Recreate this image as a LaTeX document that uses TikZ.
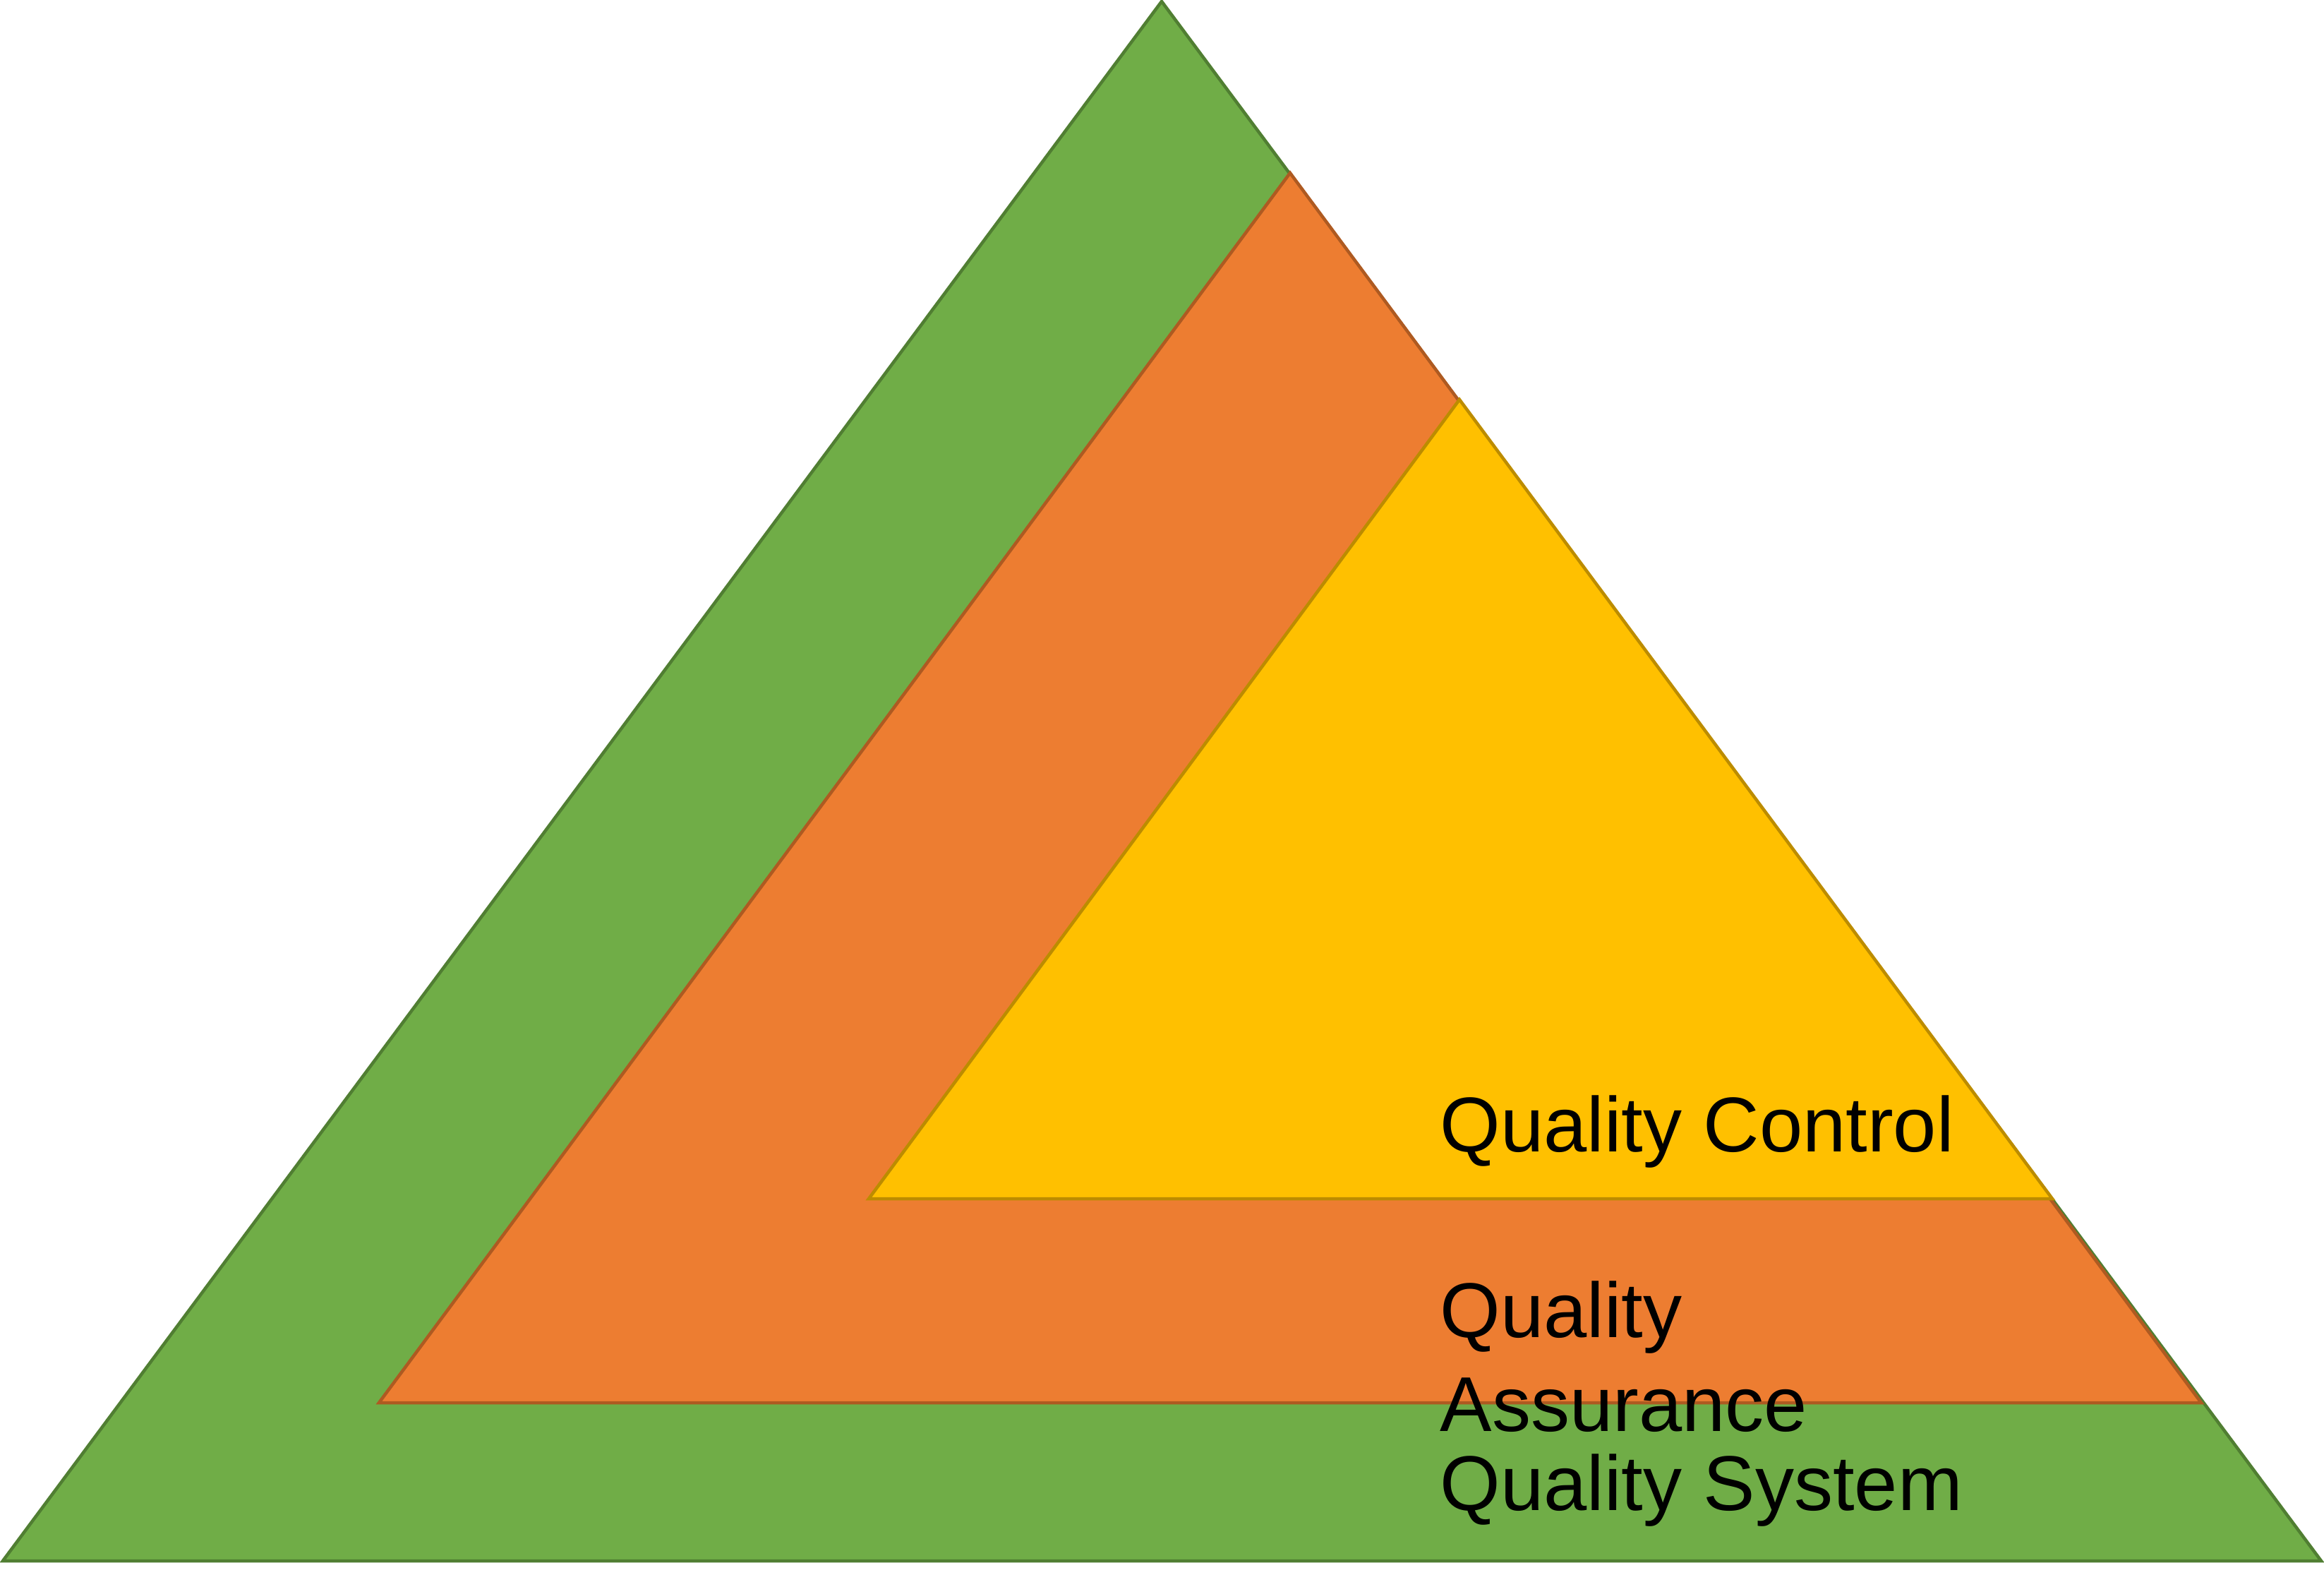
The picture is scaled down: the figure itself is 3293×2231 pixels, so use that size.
\documentclass[tikz,border=0pt]{standalone}
\usepackage{fontspec}
\setmainfont{Liberation Sans}
\definecolor{qsfill}{HTML}{70AD47}
\definecolor{qsline}{HTML}{507E32}
\definecolor{qafill}{HTML}{ED7D31}
\definecolor{qaline}{HTML}{AE5A21}
\definecolor{qcfill}{HTML}{FFC000}
\definecolor{qcline}{HTML}{BC8C00}
\tikzset{
  layer/.style={line width=0.045cm, line join=miter},
  label/.style={inner sep=0pt, anchor=base west, align=left,
    font=\fontsize{31.3pt}{37.6pt}\selectfont, text=black}
}
\begin{document}
\begin{tikzpicture}[x=0.01cm, y=-0.01cm]
\useasboundingbox (0,0) rectangle (3293,2231);
% Quality System (outer)
\draw[layer, fill=qsfill, draw=qsline] (4,2211) -- (1646,2) -- (3289,2211) -- cycle;
% Quality Assurance (middle)
\draw[layer, fill=qafill, draw=qaline] (537,1987) -- (1828,245) -- (3119,1987) -- cycle;
% Quality Control (inner)
\draw[layer, fill=qcfill, draw=qcline] (1231,1698) -- (2068,566) -- (2908,1698) -- cycle;
% labels (base anchor of the two-line label is the baseline of its last line)
\node[label] (qc) at (2040,1631) {Quality Control};
\node[label] (qa) at (2040,2027) {Quality\\Assurance};
\node[label] (qs) at (2040,2139) {Quality System};
\end{tikzpicture}
\end{document}
